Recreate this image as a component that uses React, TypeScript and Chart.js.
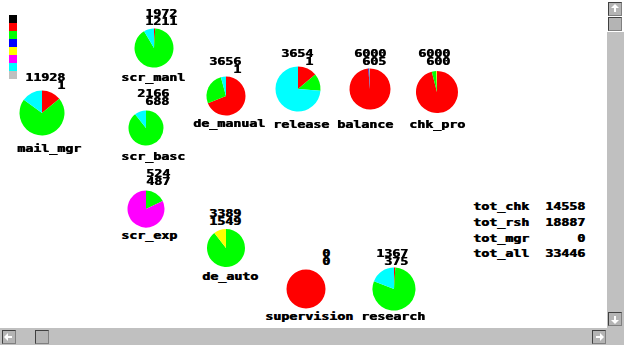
import React, { useEffect, useRef } from "react";
import { Chart, registerables } from "chart.js";
Chart.register(...registerables);

// ---- data ----
const nodeNames = ["mail_mgr", "scr_manl", "scr_basc", "de_manual", "release", "balance", "chk_pro", "scr_exp", "de_auto", "supervision", "research"];
const upperCounts = [11928, 1972, 2166, 3656, 3654, 6000, 6000, 524, 3389, 0, 1367];
const lowerCounts = [1, 1211, 688, 1, 1, 605, 600, 487, 1549, 0, 375];

const categoryNames = ["black", "red", "green", "blue", "yellow", "magenta", "cyan", "gray"];
const categoryColors = ["#000000", "#ff0000", "#00ff00", "#0000ff", "#ffff00", "#ff00ff", "#00ffff", "#c0c0c0"];

// share of each colour category per node (percent)
const blackShare = [0, 0, 0, 0, 0, 0, 0, 0, 0, 0, 0];
const redShare = [14, 1, 0, 69, 13.9, 98.6, 96, 0, 0, 100, 1];
const greenShare = [71, 90.5, 89.3, 26.8, 12.3, 0, 3.5, 18, 89.5, 0, 79.9];
const blueShare = [0, 0, 0, 0, 0, 1.0, 0, 0, 0, 0, 0];
const yellowShare = [0, 0, 0, 0, 0, 0.4, 0.5, 0, 10.5, 0, 0];
const magentaShare = [0, 0, 0, 0, 0, 0, 0, 82, 0, 0, 0];
const cyanShare = [15, 8.5, 10.7, 4.2, 73.8, 0, 0, 0, 0, 0, 19.1];
const grayShare = [0, 0, 0, 0, 0, 0, 0, 0, 0, 0, 0];

const totalLabels = ["tot_chk", "tot_rsh", "tot_mgr", "tot_all"];
const totalValues = [14558, 18887, 0, 33446];

// ---- layout ----
const pieX = [41.5, 153.5, 145.5, 225.5, 297.5, 369.5, 437, 145.5, 225.5, 305.5, 393.5];
const pieY = [112.5, 47.5, 128, 96, 88.5, 88.5, 91.5, 208.5, 248, 288.5, 288.5];
const pieR = [22.5, 19.5, 17.5, 19.5, 22.5, 20.5, 21, 18.5, 19, 19.5, 21.5];
const numRight = [65, 177.5, 169, 241, 313.5, 386, 450, 170, 241.5, 330, 408.5];
const numTop = [73.5, 9.5, 89.5, 57.5, 49.5, 49.5, 49.5, 169.5, 209.5, 249.5, 249.5];
const labelLeft = [17, 121, 121, 193, 273, 336.5, 409, 121, 201.5, 265, 361];
const labelTop = [145, 74, 153, 120, 121, 121, 121, 232, 273, 313, 313];
const totalsLeft = 473;
const totalsTop = [202.5, 218.5, 234.5, 250];

const W = 624;
const H = 345;
const SX = 8 / 6.02;
const textStyle: React.CSSProperties = {
  position: "absolute",
  fontFamily: '"DejaVu Sans Mono", monospace',
  fontWeight: "bold",
  fontSize: "10px",
  lineHeight: "8px",
  whiteSpace: "pre",
  color: "#000",
  textShadow: "0.5px 0 0 #000",
};

function Pie({ i }: { i: number }) {
  const ref = useRef<HTMLCanvasElement>(null);
  const size = Math.ceil(pieR[i]) * 2 + 4;
  useEffect(() => {
    const data = [
      blackShare[i], redShare[i], greenShare[i], blueShare[i],
      yellowShare[i], magentaShare[i], cyanShare[i], grayShare[i],
    ];
    const chart = new Chart(ref.current as HTMLCanvasElement, {
      type: "pie",
      data: {
        labels: categoryNames,
        datasets: [{ data, backgroundColor: categoryColors, borderWidth: 0, radius: pieR[i] } as any],
      },
      options: {
        responsive: false,
        animation: false,
        events: [],
        radius: pieR[i],
        layout: { padding: 0 },
        plugins: { legend: { display: false }, tooltip: { enabled: false }, title: { display: false } },
      } as any,
    });
    return () => chart.destroy();
  }, [i]);
  return (
    <canvas
      ref={ref}
      width={size}
      height={size}
      style={{ position: "absolute", left: pieX[i] - size / 2, top: pieY[i] - size / 2, width: size, height: size }}
    />
  );
}

function Arrow({ dir }: { dir: "up" | "down" | "left" | "right" }) {
  const t = 4;
  const base: React.CSSProperties = { position: "absolute", width: 0, height: 0 };
  let s: React.CSSProperties = {};
  if (dir === "up") s = { left: 2, top: 1, borderLeft: `${t}px solid transparent`, borderRight: `${t}px solid transparent`, borderBottom: `${t}px solid #fff` };
  if (dir === "down") s = { left: 2, top: 7, borderLeft: `${t}px solid transparent`, borderRight: `${t}px solid transparent`, borderTop: `${t}px solid #fff` };
  if (dir === "left") s = { left: 1, top: 2, borderTop: `${t}px solid transparent`, borderBottom: `${t}px solid transparent`, borderRight: `${t}px solid #fff` };
  if (dir === "right") s = { left: 7, top: 2, borderTop: `${t}px solid transparent`, borderBottom: `${t}px solid transparent`, borderLeft: `${t}px solid #fff` };
  const stem: React.CSSProperties =
    dir === "up" || dir === "down"
      ? { position: "absolute", left: 5, top: dir === "up" ? 5 : 3, width: 2, height: 4, background: "#fff" }
      : { position: "absolute", top: 5, left: dir === "left" ? 5 : 3, width: 4, height: 2, background: "#fff" };
  return (
    <>
      <div style={{ ...base, ...s }} />
      <div style={stem} />
    </>
  );
}

function Btn({ x, y, dir }: { x: number; y: number; dir?: "up" | "down" | "left" | "right" }) {
  return (
    <div
      style={{
        position: "absolute", left: x, top: y, width: 14, height: 14, boxSizing: "border-box",
        borderTop: "1px solid #404040", borderLeft: "1px solid #404040",
        borderRight: "1px solid #808080", borderBottom: "1px solid #808080",
        background: "#b4b4b4",
      }}
    >
      {dir ? <Arrow dir={dir} /> : null}
    </div>
  );
}

export default function App() {
  return (
    <div style={{ position: "fixed", left: 0, top: 0, width: W, height: H, background: "#fff", overflow: "hidden" }}>
      {/* colour key */}
      {categoryColors.map((c, k) => (
        <div key={c} style={{ position: "absolute", left: 9, top: 15 + k * 8, width: 8, height: 8, background: c }} />
      ))}
      {nodeNames.map((_, i) => <Pie key={i} i={i} />)}
      {nodeNames.map((name, i) => (
        <React.Fragment key={name}>
          <div
            style={{
              ...textStyle, right: W - numRight[i], top: numTop[i], textAlign: "right",
              transform: `scaleX(${SX})`, transformOrigin: "right top",
            }}
          >
            {String(upperCounts[i]) + "\n" + String(lowerCounts[i])}
          </div>
          <div
            style={{
              ...textStyle, left: labelLeft[i], top: labelTop[i],
              transform: `scaleX(${SX})`, transformOrigin: "left top",
            }}
          >
            {name}
          </div>
        </React.Fragment>
      ))}
      {totalLabels.map((t, k) => (
        <div
          key={t}
          style={{ ...textStyle, left: totalsLeft, top: totalsTop[k], transform: `scaleX(${SX})`, transformOrigin: "left top" }}
        >
          {t + String(totalValues[k]).padStart(7, " ")}
        </div>
      ))}
      {/* vertical scrollbar */}
      <div style={{ position: "absolute", left: 607, top: 32, width: 17, height: 296, background: "#c0c0c0" }} />
      <Btn x={608} y={2} dir="up" />
      <Btn x={608} y={17} />
      <Btn x={608} y={312} dir="down" />
      {/* horizontal scrollbar */}
      <div style={{ position: "absolute", left: 0, top: 328, width: W, height: 17, background: "#c0c0c0" }} />
      <Btn x={2} y={330} dir="left" />
      <Btn x={35} y={330} />
      <Btn x={592} y={330} dir="right" />
    </div>
  );
}
